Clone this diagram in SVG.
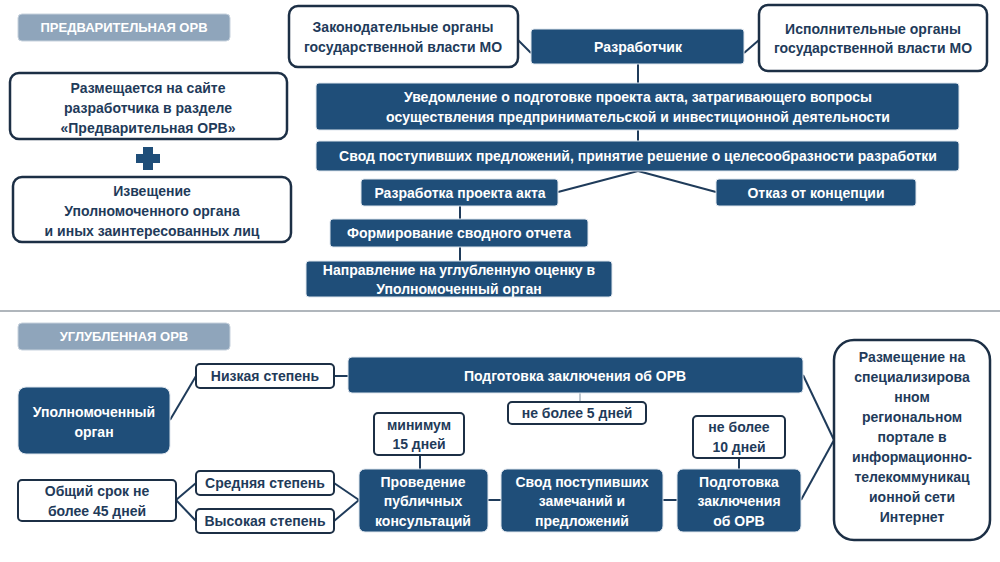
<svg xmlns="http://www.w3.org/2000/svg" width="1000" height="562" viewBox="0 0 1000 562">
<style>
text{font-family:"Liberation Sans Narrow","Liberation Sans",Arial,sans-serif;font-weight:bold;font-size:14px;text-anchor:middle}
.d{fill:#1f4e79;stroke:#dfe6ee;stroke-width:1}
.dt{fill:#fff}
.w{fill:#fff;stroke:#1c2f45;stroke-width:2.5}
.wt{fill:#1f3b5a}
.g{fill:#8fa5bb;stroke:#c7d2dd}
.gt{fill:#fff;font-size:13px}
#c line{stroke:#1f3b5a;stroke-width:2}
</style>
<rect width="1000" height="562" fill="#fff"/>
<line x1="0" y1="311" x2="1000" y2="311" stroke="#b0b6bc" stroke-width="2"/>
<g id="c">
<line x1="518" y1="40" x2="531" y2="53"/><line x1="759" y1="40" x2="744" y2="53"/>
<line x1="638" y1="64" x2="638" y2="83"/><line x1="638" y1="130" x2="638" y2="141"/>
<line x1="638" y1="171" x2="558" y2="192"/><line x1="638" y1="171" x2="716" y2="192"/>
<line x1="460" y1="206" x2="460" y2="219"/><line x1="460" y1="247" x2="460" y2="262"/>
<line x1="170" y1="420" x2="196" y2="376"/><line x1="334" y1="376" x2="348" y2="376"/>
<line x1="580" y1="393" x2="580" y2="402" style="stroke:#c0c8d0"/>
<line x1="176" y1="500" x2="196" y2="483"/><line x1="176" y1="500" x2="196" y2="521"/>
<line x1="334" y1="483" x2="359" y2="500"/><line x1="334" y1="521" x2="359" y2="500"/>
<line x1="488" y1="500" x2="501" y2="500"/><line x1="663" y1="500" x2="677" y2="500"/>
<line x1="420" y1="450" x2="420" y2="469"/><line x1="739" y1="450" x2="739" y2="469"/>
<line x1="803" y1="375" x2="834" y2="440"/><line x1="801" y1="500" x2="834" y2="440"/>
</g>
<g id="lbl1"><rect class="g" x="18" y="14" width="212" height="27" rx="4"/><text class="gt" x="124" y="32">ПРЕДВАРИТЕЛЬНАЯ ОРВ</text></g>
<g id="leg"><rect class="w" x="289" y="6" width="229" height="61" rx="9"/><text class="wt" x="403" y="32">Законодательные органы</text><text class="wt" x="403" y="52">государственной власти МО</text></g>
<g id="dev"><rect class="d" x="531" y="29" width="213" height="35" rx="3"/><text class="dt" x="638" y="52">Разработчик</text></g>
<g id="exec"><rect class="w" x="759" y="5" width="228" height="66" rx="9"/><text class="wt" x="873" y="34">Исполнительные органы</text><text class="wt" x="873" y="53">государственной власти МО</text></g>
<g id="notif"><rect class="d" x="316" y="83" width="643" height="47" rx="3"/><text class="dt" x="638" y="102">Уведомление о подготовке проекта акта, затрагивающего вопросы</text><text class="dt" x="638" y="122">осуществления предпринимательской и инвестиционной деятельности</text></g>
<g id="svod"><rect class="d" x="316" y="141" width="643" height="30" rx="3"/><text class="dt" x="638" y="161">Свод поступивших предложений, принятие решение о целесообразности разработки</text></g>
<g id="razr"><rect class="d" x="361" y="179" width="197" height="27" rx="3"/><text class="dt" x="460" y="198">Разработка проекта акта</text></g>
<g id="otkaz"><rect class="d" x="716" y="179" width="200" height="27" rx="3"/><text class="dt" x="816" y="198">Отказ от концепции</text></g>
<g id="form"><rect class="d" x="330" y="219" width="258" height="28" rx="3"/><text class="dt" x="459" y="238">Формирование сводного отчета</text></g>
<g id="napr"><rect class="d" x="306" y="261" width="306" height="36" rx="3"/><text class="dt" x="459" y="275">Направление на углубленную оценку в</text><text class="dt" x="459" y="294">Уполномоченный орган</text></g>
<g id="left1"><rect class="w" x="10" y="73" width="277" height="66" rx="9"/><text class="wt" x="148" y="93">Размещается на сайте</text><text class="wt" x="148" y="113">разработчика в разделе</text><text class="wt" x="148" y="133">«Предварительная ОРВ»</text></g>
<g id="plus"><path d="M143 147h10v7h7v9h-7v7h-10v-7h-7v-9h7z" fill="#1f4e79"/></g>
<g id="left2"><rect class="w" x="13" y="177" width="278" height="65" rx="9"/><text class="wt" x="152" y="196">Извещение</text><text class="wt" x="152" y="216">Уполномоченного органа</text><text class="wt" x="152" y="236">и иных заинтересованных лиц</text></g>
<g id="lbl2"><rect class="g" x="18" y="323" width="212" height="27" rx="4"/><text class="gt" x="124" y="341">УГЛУБЛЕННАЯ ОРВ</text></g>
<g id="upol"><rect class="d" x="18" y="387" width="152" height="67" rx="8"/><text class="dt" x="94" y="417">Уполномоченный</text><text class="dt" x="94" y="437">орган</text></g>
<g id="nizk"><rect class="w" x="196" y="364" width="138" height="24" rx="4" style="stroke-width:2"/><text class="wt" x="265" y="381">Низкая степень</text></g>
<g id="podg"><rect class="d" x="348" y="357" width="455" height="36" rx="4"/><text class="dt" x="575" y="381">Подготовка заключения об ОРВ</text></g>
<g id="ne5"><rect class="w" x="508" y="402" width="138" height="22" rx="4" style="stroke-width:2"/><text class="wt" x="577" y="418">не более 5 дней</text></g>
<g id="min15"><rect class="w" x="374" y="413" width="90" height="42" rx="4" style="stroke-width:2"/><text class="wt" x="419" y="430">минимум</text><text class="wt" x="419" y="449">15 дней</text></g>
<g id="ne10"><rect class="w" x="693" y="416" width="92" height="42" rx="4" style="stroke-width:2"/><text class="wt" x="739" y="432">не более</text><text class="wt" x="739" y="452">10 дней</text></g>
<g id="obsh"><rect class="w" x="18" y="480" width="158" height="41" rx="4" style="stroke-width:2"/><text class="wt" x="97" y="496">Общий срок не</text><text class="wt" x="97" y="516">более 45 дней</text></g>
<g id="sred"><rect class="w" x="196" y="471" width="138" height="24" rx="4" style="stroke-width:2"/><text class="wt" x="265" y="488">Средняя степень</text></g>
<g id="vys"><rect class="w" x="196" y="509" width="138" height="24" rx="4" style="stroke-width:2"/><text class="wt" x="265" y="526">Высокая степень</text></g>
<g id="prov"><rect class="d" x="359" y="469" width="129" height="63" rx="6"/><text class="dt" x="423" y="487">Проведение</text><text class="dt" x="423" y="506">публичных</text><text class="dt" x="423" y="526">консультаций</text></g>
<g id="svod2"><rect class="d" x="501" y="469" width="162" height="63" rx="6"/><text class="dt" x="582" y="487">Свод поступивших</text><text class="dt" x="582" y="506">замечаний и</text><text class="dt" x="582" y="526">предложений</text></g>
<g id="podg2"><rect class="d" x="677" y="469" width="124" height="63" rx="6"/><text class="dt" x="739" y="487">Подготовка</text><text class="dt" x="739" y="506">заключения</text><text class="dt" x="739" y="526">об ОРВ</text></g>
<g id="razm"><rect class="w" x="834" y="340" width="156" height="200" rx="20"/>
<text class="wt" x="912" y="362">Размещение на</text><text class="wt" x="912" y="382">специализирова</text><text class="wt" x="912" y="402">нном</text><text class="wt" x="912" y="422">региональном</text><text class="wt" x="912" y="442">портале в</text><text class="wt" x="912" y="462">информационно-</text><text class="wt" x="912" y="482">телекоммуникац</text><text class="wt" x="912" y="502">ионной сети</text><text class="wt" x="912" y="522">Интернет</text></g>
</svg>
